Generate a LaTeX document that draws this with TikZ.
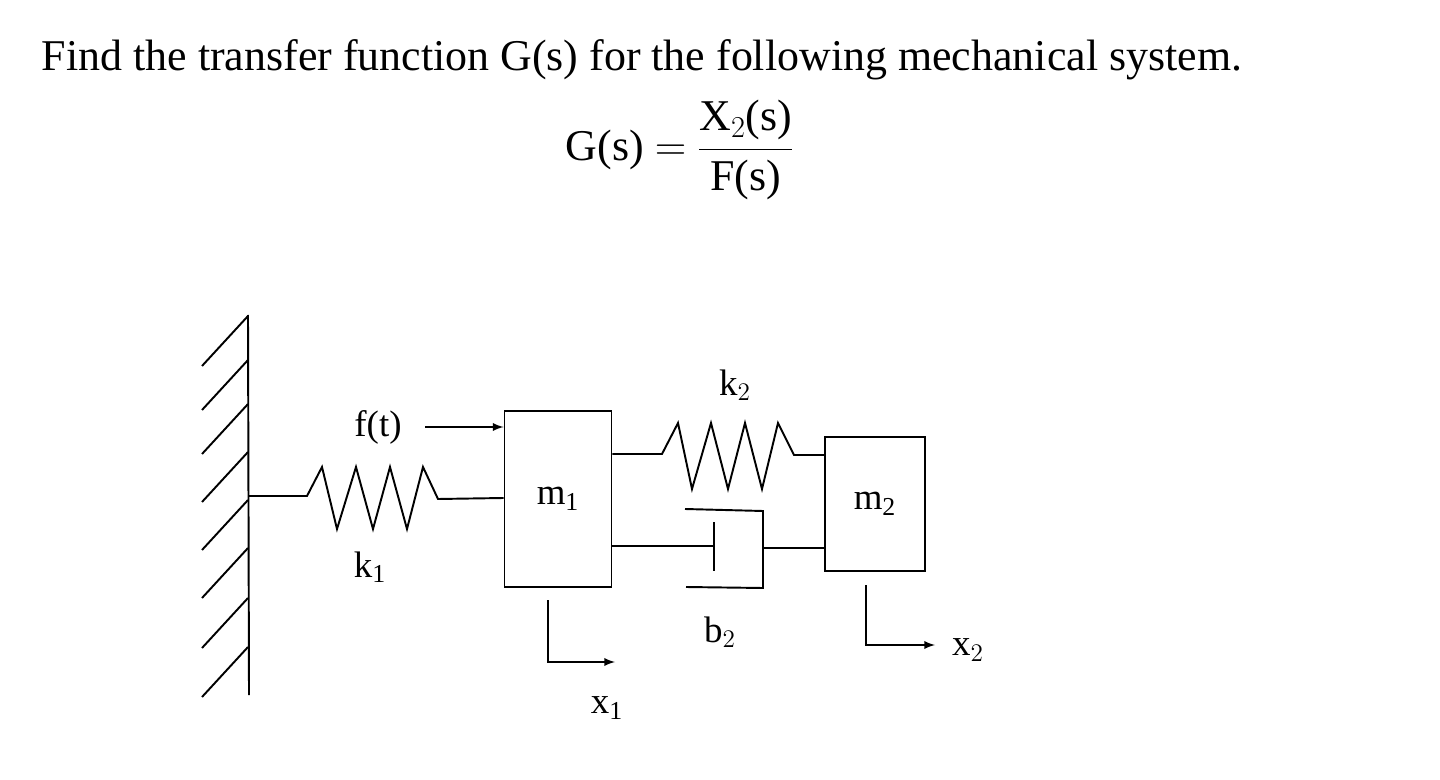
\documentclass[tikz,border=0pt]{standalone}
\usepackage{fontspec}
\setmainfont{Liberation Serif}
\usepackage{tikz}
\usetikzlibrary{positioning}
\begin{document}
\begin{tikzpicture}[x=0.02cm,y=-0.02cm,line width=1.1pt,
  lbl/.style={font=\fontsize{21}{24}\selectfont,inner sep=0pt}]
\useasboundingbox (0,0) rectangle (1440,780);
\node [anchor=west,font=\fontsize{25}{30}\selectfont] (title) at (35,60) {Find the transfer function G(s) for the following mechanical system.};
\node [font=\fontsize{25}{30}\selectfont] (eq) at (680,150) {G(s) $=$ $\displaystyle\frac{\textrm{X}_2\textrm{(s)}}{\textrm{F(s)}}$};
% wall
\draw (248,315) -- (249,695);
\foreach \y in {316,360,404,452,500,548,598,647}
  \draw (202,\y+50) -- (248,\y);
% masses
\node [draw,minimum width=2.14cm,minimum height=3.52cm,inner sep=0pt] (m1) at (558,499) {};
\node [lbl] at (m1) {m\textsubscript{1}};
\node [draw,minimum width=2cm,minimum height=2.68cm,inner sep=0pt] (m2) at (875,504) {};
\node [lbl] at (m2) {m\textsubscript{2}};
% spring k1
\draw (248,496) -- (307,496) -- (322,467) -- (337,529) -- (356,467) -- (373,529) -- (390,467) -- (407,529) -- (423,467) -- (438,499) -- (m1.west |- 0,498);
\node [lbl] (k1) at (370,567) {k\textsubscript{1}};
% force
\node [lbl] (f) at (378,427) {f(t)};
\draw [-latex] (425,427) -- (m1.west |- 0,427);
% spring k2
\draw (m1.east |- 0,454) -- (662,454) -- (678,423) -- (692,489) -- (711,423) -- (728,489) -- (745,423) -- (762,489) -- (778,423) -- (794,455) -- (m2.west |- 0,455);
\node [lbl] (k2) at (735,385) {k$_2$};
% damper b2
\draw (m1.east |- 0,546) -- (714,546);
\draw (714,522) -- (714,571);
\draw (685,509) -- (763,511) -- (763,588) -- (686,587);
\draw (763,548) -- (m2.west |- 0,548);
\node [lbl] (b2) at (720,632) {b$_2$};
% displacements
\draw [-latex] (548,600) -- (548,662) -- (615,662);
\node [lbl] (x1) at (607,708) {x\textsubscript{1}};
\draw [-latex] (866,585) -- (866,645) -- (935,645);
\node [lbl] (x2) at (968,650) {x$_2$};
\end{tikzpicture}
\end{document}
